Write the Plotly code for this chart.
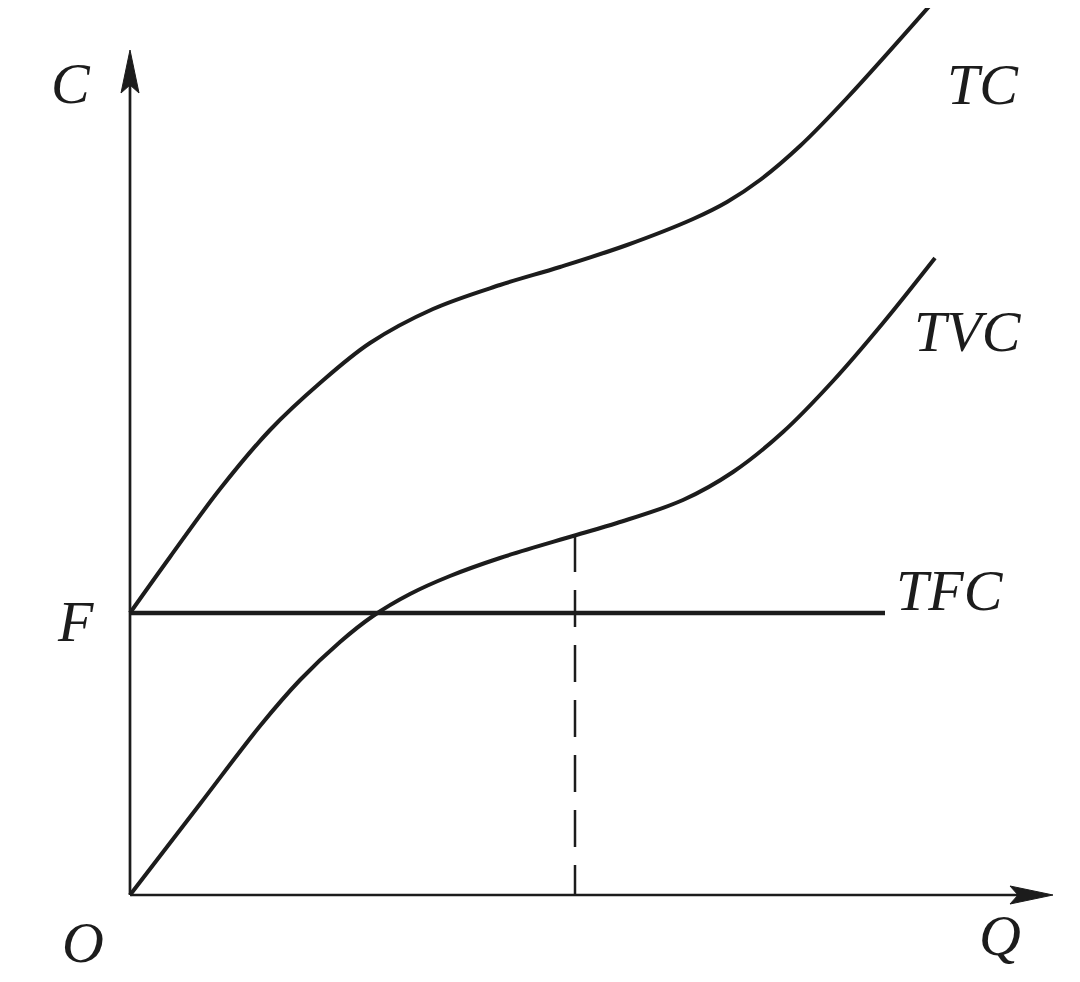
import plotly.graph_objects as go

# cost curves (Q on x, C on y)
tvc_q = [0, 0.70, 1.30, 1.70, 2.10, 2.43, 2.80, 3.20, 3.70, 4.43, 4.87, 5.53, 6.03, 6.53, 7.03, 7.53, 8.05]
tvc_c = [0, 0.91, 1.69, 2.15, 2.53, 2.79, 3.01, 3.19, 3.37, 3.59, 3.72, 3.95, 4.23, 4.63, 5.14, 5.72, 6.37]

tc_q = [0, 0.40, 0.90, 1.40, 1.90, 2.40, 3.03, 3.70, 4.30, 4.97, 5.63, 5.97, 6.30, 6.70, 7.17, 8.03]
tc_c = [2.82, 3.38, 4.06, 4.65, 5.12, 5.52, 5.86, 6.10, 6.28, 6.50, 6.76, 6.93, 7.15, 7.49, 7.97, 8.93]

tfc_q = [0, 7.55]
tfc_c = [2.82, 2.82]

q_mark = 4.45   # dashed guide
tvc_at_mark = 3.60

x_end = 9.23
y_end = 8.45

ink = "#1c1c1c"
serif = "Liberation Serif"

fig = go.Figure()

fig.add_trace(go.Scatter(x=tc_q, y=tc_c, mode="lines",
                         line=dict(color=ink, width=4, shape="spline", smoothing=1)))
fig.add_trace(go.Scatter(x=tvc_q, y=tvc_c, mode="lines",
                         line=dict(color=ink, width=4, shape="spline", smoothing=1)))
fig.add_trace(go.Scatter(x=tfc_q, y=tfc_c, mode="lines",
                         line=dict(color=ink, width=4.5)))
fig.add_trace(go.Scatter(x=[q_mark, q_mark], y=[tvc_at_mark, 0], mode="lines",
                         line=dict(color=ink, width=2.5, dash="37px,18px")))

# axes
fig.add_shape(type="line", x0=0, y0=0, x1=0, y1=y_end - 0.3, line=dict(color=ink, width=2.7))
fig.add_shape(type="line", x0=0, y0=0, x1=x_end - 0.3, y1=0, line=dict(color=ink, width=2.7))
# arrow heads
fig.add_shape(type="path", fillcolor=ink, line=dict(color=ink, width=1),
              path=f"M 0 {y_end} L -0.09 {y_end - 0.43} L 0 {y_end - 0.35} L 0.09 {y_end - 0.43} Z")
fig.add_shape(type="path", fillcolor=ink, line=dict(color=ink, width=1),
              path=f"M {x_end} 0 L {x_end - 0.43} 0.09 L {x_end - 0.35} 0 L {x_end - 0.43} -0.09 Z")

labels = [
    ("C", -0.59, 8.12),
    ("F", -0.55, 2.74),
    ("O", -0.47, -0.47),
    ("Q", 8.70, -0.40),
    ("TC", 8.53, 8.11),
    ("TVC", 8.38, 5.64),
    ("TFC", 8.20, 3.05),
]
for txt, lx, ly in labels:
    fig.add_annotation(x=lx, y=ly, text=f"<i>{txt}</i>", showarrow=False,
                       font=dict(family=serif, size=58, color=ink),
                       xanchor="center", yanchor="middle")

# page body has an 8px margin, so the figure is a bit smaller and ranges shifted
fig.update_layout(
    width=1064, height=966,
    margin=dict(l=0, r=0, t=0, b=0),
    paper_bgcolor="white", plot_bgcolor="white",
    showlegend=False,
    xaxis=dict(range=[-1.22, 9.42], visible=False),
    yaxis=dict(range=[-0.79, 8.87], visible=False),
)
fig.write_html("out.html")
